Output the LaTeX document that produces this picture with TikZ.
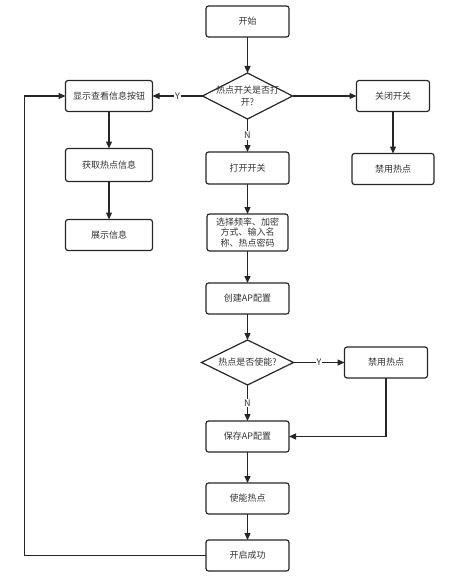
\documentclass[tikz,border=0pt]{standalone}
\usepackage{fontspec}
\setmainfont{Noto Sans CJK SC}
\usetikzlibrary{positioning,arrows.meta,shapes.geometric}

\begin{document}
\begin{tikzpicture}[st/.style={draw=black!85,line width=1.2pt,rounded corners=2.5pt,minimum width=83pt,minimum height=31pt,inner sep=2pt,outer sep=0pt,align=center,font=\fontsize{9}{10.7}\selectfont,text=black!80},
    dia/.style={draw=black!85,line width=1.2pt,diamond,minimum width=90pt,minimum height=46pt,inner sep=0pt,outer sep=0pt},
    lbl/.style={align=center,font=\fontsize{9}{11.5}\selectfont,text=black!80},
    yn/.style={fill=white,inner sep=1pt,font=\fontsize{9}{10}\selectfont,text=black!80},
    ar/.style={-{Triangle[length=7pt,width=6pt]},draw=black!85,line width=1.2pt}]
    \useasboundingbox (0,0) rectangle (474pt,-578pt);
    \node[st] (start) at (247.5pt,-21.5pt) {开始};
    \node[dia,below=36pt of start,label={[lbl]center:热点开关是否打\\开?}] (open) {};
    \node[st,minimum width=87pt,left=50pt of open] (show) {显示查看信息按钮};
    \node[st,minimum width=87pt,minimum height=33pt,below=37pt of show] (get) {获取热点信息};
    \node[st,minimum width=87pt,below=38pt of get] (showinfo) {展示信息};
    \node[st,minimum width=73pt,right=64pt of open] (close) {关闭开关};
    \node[st,minimum width=82pt,below=42pt of close] (dis1) {禁用热点};
    \node[st,minimum height=32pt,below=33pt of open] (switchon) {打开开关};
    \node[st,minimum width=81pt,minimum height=37pt,below=30pt of switchon] (cfg) {选择频率、加密\\方式、输入名\\称、热点密码};
    \node[st,below=32pt of cfg] (create) {创建AP配置};
    \node[dia,minimum width=92pt,minimum height=45pt,below=26pt of create,label={[lbl]center:热点是否使能?}] (ena) {};
    \node[st,right=51pt of ena] (dis2) {禁用热点};
    \node[st,below=36pt of ena] (save) {保存AP配置};
    \node[st,below=31pt of save] (enable) {使能热点};
    \node[st,below=26pt of enable] (ok) {开启成功};
    \draw[ar] (start) -- (open);
    \draw[ar] (open) -- node[yn]{Y} (show);
    \draw[ar] (open) -- (close);
    \draw[ar] (open) -- node[yn]{N} (switchon);
    \draw[ar] (show) -- (get); \draw[ar] (get) -- (showinfo);
    \draw[ar] (close) -- (dis1);
    \draw[ar] (switchon) -- (cfg); \draw[ar] (cfg) -- (create);
    \draw[ar] (create) -- (ena);
    \draw[ar] (ena) -- node[yn]{Y} (dis2);
    \draw[ar] (ena) -- node[yn]{N} (save);
    \draw[ar] (dis2.south) |- (save.east);
    \draw[ar] (save) -- (enable); \draw[ar] (enable) -- (ok);
    \draw[ar] (ok.west) -| ([xshift=-41pt]show.west) -- (show.west);
  \end{tikzpicture}
\end{document}
